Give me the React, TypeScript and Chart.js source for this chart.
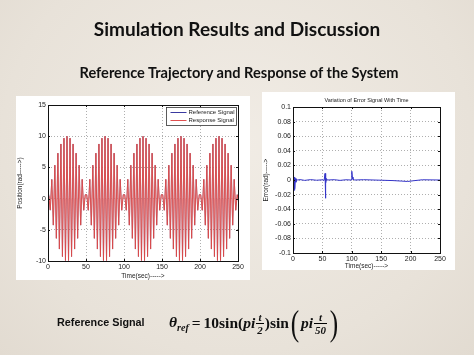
import React, { useEffect, useRef } from "react";
import { Chart, registerables } from "chart.js";
Chart.register(...registerables);

// ---- Left chart: reference trajectory and response (samples at t = 0,1,3,5,...,249,250) ----
const sampleTimes = [0, ...Array.from({ length: 125 }, (_, i) => 2 * i + 1), 250];
const referenceSignal = [
  0,
  0.63, -1.87, 3.09, -4.26, 5.36, -6.37, 7.29, -8.09, 8.76, -9.29, 9.69, -9.92, 10, -9.92, 9.69, -9.29, 8.76, -8.09, 7.29, -6.37, 5.36, -4.26, 3.09, -1.87, 0.63,
  0.63, -1.87, 3.09, -4.26, 5.36, -6.37, 7.29, -8.09, 8.76, -9.29, 9.69, -9.92, 10, -9.92, 9.69, -9.29, 8.76, -8.09, 7.29, -6.37, 5.36, -4.26, 3.09, -1.87, 0.63,
  0.63, -1.87, 3.09, -4.26, 5.36, -6.37, 7.29, -8.09, 8.76, -9.29, 9.69, -9.92, 10, -9.92, 9.69, -9.29, 8.76, -8.09, 7.29, -6.37, 5.36, -4.26, 3.09, -1.87, 0.63,
  0.63, -1.87, 3.09, -4.26, 5.36, -6.37, 7.29, -8.09, 8.76, -9.29, 9.69, -9.92, 10, -9.92, 9.69, -9.29, 8.76, -8.09, 7.29, -6.37, 5.36, -4.26, 3.09, -1.87, 0.63,
  0.63, -1.87, 3.09, -4.26, 5.36, -6.37, 7.29, -8.09, 8.76, -9.29, 9.69, -9.92, 10, -9.92, 9.69, -9.29, 8.76, -8.09, 7.29, -6.37, 5.36, -4.26, 3.09, -1.87, 0.63,
  0,
];
const responseSignal = [
  0,
  0.4, -1.8, 3.05, -4.24, 5.35, -6.36, 7.28, -8.08, 8.75, -9.28, 9.68, -9.91, 9.99, -9.91, 9.68, -9.28, 8.75, -8.08, 7.28, -6.36, 5.35, -4.25, 3.08, -1.86, 0.62,
  0.62, -1.86, 3.08, -4.25, 5.35, -6.36, 7.28, -8.08, 8.75, -9.28, 9.68, -9.91, 9.99, -9.91, 9.68, -9.28, 8.75, -8.08, 7.28, -6.36, 5.35, -4.25, 3.08, -1.86, 0.62,
  0.62, -1.86, 3.08, -4.25, 5.35, -6.36, 7.28, -8.08, 8.75, -9.28, 9.68, -9.91, 9.99, -9.91, 9.68, -9.28, 8.75, -8.08, 7.28, -6.36, 5.35, -4.25, 3.08, -1.86, 0.62,
  0.62, -1.86, 3.08, -4.25, 5.35, -6.36, 7.28, -8.08, 8.75, -9.28, 9.68, -9.91, 9.99, -9.91, 9.68, -9.28, 8.75, -8.08, 7.28, -6.36, 5.35, -4.25, 3.08, -1.86, 0.62,
  0.62, -1.86, 3.08, -4.25, 5.35, -6.36, 7.28, -8.08, 8.75, -9.28, 9.68, -9.91, 9.99, -9.91, 9.68, -9.28, 8.75, -8.08, 7.28, -6.36, 5.35, -4.25, 3.08, -1.86, 0.62,
  0,
];
const seriesNames = ["Reference Signal", "Response Signal"];

// ---- Right chart: error signal ----
const errorTimes = [0, 0.3, 0.8, 1.2, 1.8, 2.5, 3.2, 4, 5, 6, 8, 12, 20, 30, 40, 50, 53, 54.5, 55, 55.5, 56, 57, 58, 70, 80, 90, 99, 100, 101, 102, 105, 120, 150, 170, 185, 195, 205, 220, 250];
const errorValues = [0, 0.038, -0.006, 0.01, -0.014, 0.004, -0.012, 0.002, -0.003, 0.001, 0, 0.0005, -0.0005, 0.0005, -0.0003, 0.0002, -0.0005, 0.009, -0.025, 0.006, -0.004, 0.002, 0, 0.0004, -0.0005, 0.0003, 0, 0.012, 0.004, 0.001, 0, 0.0004, -0.0003, -0.0008, -0.0015, -0.002, -0.001, 0.0003, 0];

const FONT = "'Liberation Sans', Arial, sans-serif";

const framePlugin = {
  id: "frame",
  afterDraw(chart: any) {
    const { ctx, chartArea } = chart;
    const { left, top, right, bottom } = chartArea;
    ctx.save();
    ctx.strokeStyle = "#111";
    ctx.lineWidth = 1;
    ctx.strokeRect(Math.round(left) + 0.5, Math.round(top) + 0.5, Math.round(right - left), Math.round(bottom - top));
    const xs = chart.scales.x;
    const ys = chart.scales.y;
    ctx.beginPath();
    xs.ticks.forEach((t: any) => {
      const px = Math.round(xs.getPixelForValue(t.value)) + 0.5;
      ctx.moveTo(px, bottom); ctx.lineTo(px, bottom - 2);
      ctx.moveTo(px, top); ctx.lineTo(px, top + 2);
    });
    ys.ticks.forEach((t: any) => {
      const py = Math.round(ys.getPixelForValue(t.value)) + 0.5;
      ctx.moveTo(left, py); ctx.lineTo(left + 2, py);
      ctx.moveTo(right, py); ctx.lineTo(right - 2, py);
    });
    ctx.stroke();
    ctx.restore();
  },
};

const legendPlugin = {
  id: "boxLegend",
  afterDraw(chart: any) {
    const { ctx, chartArea } = chart;
    const w = 70, h = 18;
    const x = Math.round(chartArea.right - w - 2) + 0.5;
    const y = Math.round(chartArea.top + 2) + 0.5;
    ctx.save();
    ctx.fillStyle = "#fff";
    ctx.fillRect(x, y, w, h);
    ctx.strokeStyle = "#333";
    ctx.lineWidth = 0.8;
    ctx.strokeRect(x, y, w, h);
    ctx.font = `6px ${FONT}`;
    ctx.textBaseline = "middle";
    const legendColors = ["#3a3aa0", "#e05050"];
    chart.data.datasets.forEach((ds: any, i: number) => {
      const ly = y + 5 + i * 8;
      ctx.strokeStyle = legendColors[i];
      ctx.lineWidth = 1;
      ctx.beginPath();
      ctx.moveTo(x + 4, ly); ctx.lineTo(x + 20, ly);
      ctx.stroke();
      ctx.fillStyle = "#222";
      ctx.fillText(ds.label, x + 22, ly);
    });
    ctx.restore();
  },
};

const topTitlePlugin = (text: string) => ({
  id: "topTitle",
  afterDraw(chart: any) {
    const { ctx, chartArea } = chart;
    ctx.save();
    ctx.font = `5.5px ${FONT}`;
    ctx.fillStyle = "#222";
    ctx.textAlign = "center";
    ctx.textBaseline = "alphabetic";
    ctx.fillText(text, (chartArea.left + chartArea.right) / 2, chartArea.top - 5);
    ctx.restore();
  },
});

function axis(min: number, max: number, step: number, title: string, fixed: { w?: number; h?: number }, fmt?: (v: number) => string) {
  return {
    type: "linear" as const,
    min,
    max,
    afterFit(scale: any) {
      if (fixed.w !== undefined) scale.width = fixed.w;
      if (fixed.h !== undefined) scale.height = fixed.h;
    },
    ticks: {
      stepSize: step,
      font: { family: FONT, size: 7 },
      color: "#222",
      padding: 2,
      maxRotation: 0,
      autoSkip: false,
      callback: fmt ? (v: any) => fmt(Number(v)) : undefined,
    },
    grid: { color: "#9a9a9a", lineWidth: 0.8, drawTicks: false },
    border: { display: false, dash: [1, 2] },
    title: { display: true, text: title, font: { family: FONT, size: 6.5 }, color: "#222", padding: 0 },
  };
}

function LeftChart() {
  const ref = useRef<HTMLCanvasElement>(null);
  useEffect(() => {
    const chart = new Chart(ref.current!, {
      type: "line",
      data: {
        datasets: [
          {
            label: seriesNames[0],
            data: sampleTimes.map((t, i) => ({ x: t, y: referenceSignal[i] })),
            borderColor: "#6a3a70",
            borderWidth: 0.6,
            pointRadius: 0,
            tension: 0,
            order: 2,
          },
          {
            label: seriesNames[1],
            data: sampleTimes.map((t, i) => ({ x: t, y: responseSignal[i] })),
            borderColor: "#d94a4a",
            backgroundColor: "rgba(244,165,165,0.9)",
            fill: "origin",
            borderWidth: 0.9,
            pointRadius: 0,
            tension: 0,
            order: 1,
          },
        ],
      },
      options: {
        responsive: false,
        animation: false,
        layout: { padding: { top: 9, right: 12, left: 0, bottom: 0 } },
        plugins: { legend: { display: false }, tooltip: { enabled: false }, filler: { propagate: false } },
        scales: {
          x: axis(0, 250, 50, "Time(sec)----->", { h: 19 }),
          y: axis(-10, 15, 5, "Position(rad----->)", { w: 32 }),
        },
      },
      plugins: [framePlugin, legendPlugin],
    });
    return () => chart.destroy();
  }, []);
  return <canvas ref={ref} width={234} height={184} style={{ position: "absolute", left: 16, top: 96, background: "#fff" }} />;
}

function RightChart() {
  const ref = useRef<HTMLCanvasElement>(null);
  useEffect(() => {
    const chart = new Chart(ref.current!, {
      type: "line",
      data: {
        datasets: [
          {
            label: "Error",
            data: errorTimes.map((t, i) => ({ x: t, y: errorValues[i] })),
            borderColor: "#3434c8",
            borderWidth: 1,
            pointRadius: 0,
            tension: 0,
          },
        ],
      },
      options: {
        responsive: false,
        animation: false,
        layout: { padding: { top: 15, right: 15, left: 0, bottom: 0 } },
        plugins: { legend: { display: false }, tooltip: { enabled: false } },
        scales: {
          x: axis(0, 250, 50, "Time(sec)----->", { h: 17 }),
          y: axis(-0.1, 0.1, 0.02, "Error(rad)----->", { w: 31 }, (v) => String(Number(v.toFixed(2)))),
        },
      },
      plugins: [framePlugin, topTitlePlugin("Variation of Error Signal With Time")],
    });
    return () => chart.destroy();
  }, []);
  return <canvas ref={ref} width={193} height={178} style={{ position: "absolute", left: 262, top: 92, background: "#fff" }} />;
}

function Frac({ num, den }: { num: string; den: string }) {
  return (
    <span style={{ display: "inline-flex", flexDirection: "column", alignItems: "center", fontSize: 11, lineHeight: "12px", margin: "0 1px" }}>
      <span>{num}</span>
      <span style={{ borderTop: "1.2px solid #000", padding: "0 1px" }}>{den}</span>
    </span>
  );
}

export default function App() {
  return (
    <div
      style={{
        position: "fixed",
        left: 0,
        top: 0,
        width: 474,
        height: 355,
        overflow: "hidden",
        background: "radial-gradient(ellipse at 50% 40%, #f1ece5 0%, #e8e2d9 70%, #e2dbd1 100%)",
      }}
    >
      <div style={{ position: "absolute", left: 0, width: 474, top: 17, textAlign: "center", font: `bold 19px Lato, 'Open Sans', sans-serif`, color: "#111" }}>
        Simulation Results and Discussion
      </div>
      <div style={{ position: "absolute", left: 2, width: 474, top: 64, textAlign: "center", font: `bold 14.6px Lato, 'Open Sans', sans-serif`, color: "#111" }}>
        Reference Trajectory and Response of the System
      </div>
      <LeftChart />
      <RightChart />
      <div style={{ position: "absolute", left: 57, top: 316, font: `bold 10.8px ${FONT}`, color: "#111" }}>Reference Signal</div>
      <div
        style={{
          position: "absolute",
          left: 169,
          top: 301,
          height: 44,
          display: "flex",
          alignItems: "center",
          fontFamily: "'Liberation Serif', 'Times New Roman', serif",
          fontWeight: "bold",
          fontStyle: "italic",
          fontSize: 15.5,
          color: "#111",
          whiteSpace: "nowrap",
        }}
      >
        <span>θ<sub style={{ fontSize: 10 }}>ref</sub></span>
        <span style={{ fontStyle: "normal", margin: "0 3px" }}>=</span>
        <span style={{ fontStyle: "normal" }}>10sin(</span>
        <span>pi</span>
        <Frac num="t" den="2" />
        <span style={{ fontStyle: "normal" }}>)sin</span>
        <span style={{ fontStyle: "normal", fontWeight: "normal", fontSize: 36, lineHeight: "40px", display: "inline-block", transform: "scaleX(0.7)" }}>(</span>
        <span>pi</span>
        <Frac num="t" den="50" />
        <span style={{ fontStyle: "normal", fontWeight: "normal", fontSize: 36, lineHeight: "40px", display: "inline-block", transform: "scaleX(0.7)" }}>)</span>
      </div>
    </div>
  );
}
